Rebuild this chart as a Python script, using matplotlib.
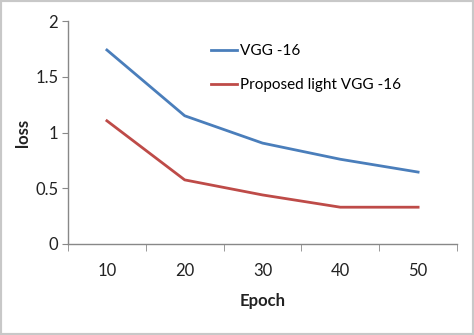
import matplotlib.pyplot as plt
from matplotlib.patches import Rectangle

# values
epochs = ["10", "20", "30", "40", "50"]
vgg16 = [1.74, 1.15, 0.905, 0.76, 0.645]
light_vgg16 = [1.105, 0.575, 0.44, 0.33, 0.33]
y_ticks = [0, 0.5, 1, 1.5, 2]
y_labels = ["0", "0.5", "1", "1.5", "2"]

plt.rcParams['font.family'] = ['Lato', 'DejaVu Sans']

fig = plt.figure(figsize=(4.74, 3.35), dpi=100)
ax = fig.add_axes([68 / 474, 1 - 244 / 335, (457 - 68) / 474, (244 - 21) / 335])

x = list(range(len(epochs)))
ax.plot(x, vgg16, color='#4a7ebb', lw=2, label='VGG -16')
ax.plot(x, light_vgg16, color='#be4b48', lw=2, label='Proposed light VGG -16')

ax.set_xlim(-0.5, len(epochs) - 0.5)
ax.set_ylim(0, 2)
ax.set_yticks(y_ticks)
ax.set_yticklabels(y_labels)
ax.set_xticks(x)
ax.set_xticklabels(epochs)
ax.tick_params(axis='x', length=0, pad=14, labelsize=12, colors='#222222')
ax.tick_params(axis='y', length=4, color='#888888', labelsize=12, colors='#222222', pad=3)
# category separator ticks on the x axis
ax.set_xticks([i - 0.5 for i in range(len(epochs) + 1)], minor=True)
ax.tick_params(axis='x', which='minor', length=5, color='#888888')

for s in ['top', 'right']:
    ax.spines[s].set_visible(False)
for s in ['left', 'bottom']:
    ax.spines[s].set_color('#888888')
    ax.spines[s].set_linewidth(1)

ax.set_xlabel('Epoch', fontsize=12, fontweight='bold', color='#222222', labelpad=10)
ax.set_ylabel('loss', fontsize=12, fontweight='bold', color='#222222', labelpad=3)

ax.legend(loc='upper left', bbox_to_anchor=(0.347, 0.93), frameon=False,
          fontsize=11, handlelength=1.75, handletextpad=0.15, labelspacing=1.3,
          borderpad=0)

# thin gray frame around the picture
fig.patches.append(Rectangle((0, 0), 1, 1, transform=fig.transFigure,
                             fill=False, edgecolor='#c8c8c8', lw=3))

fig.savefig('out.png', dpi=100)
